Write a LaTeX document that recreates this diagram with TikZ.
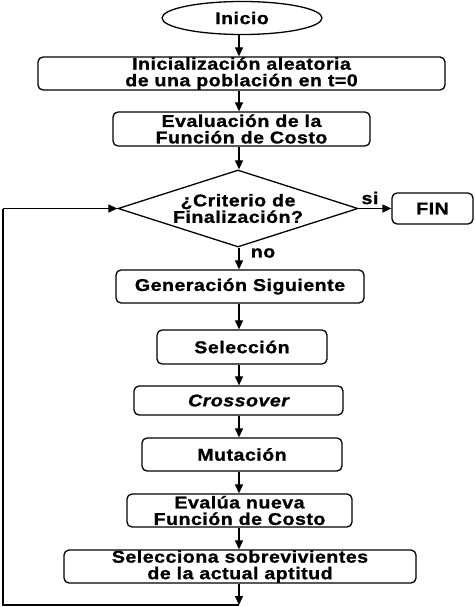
\documentclass[tikz,border=0pt]{standalone}
\usepackage{fontspec}
\setmainfont{Liberation Sans}[FakeStretch=1.15, LetterSpace=3, FakeBold=1.2]
\usetikzlibrary{shapes.geometric,arrows.meta}
\begin{document}
\begin{tikzpicture}[x=1pt,y=-1pt,
  txt/.style={font=\bfseries\fontsize{17}{16.5}\selectfont},
  proc/.style={txt, draw, rectangle, rounded corners=5pt, line width=1.3pt, inner sep=0pt, align=center},
  arr/.style={line width=1.2pt, -{Triangle[length=9pt,width=8pt]}},
  loopline/.style={line width=1.7pt},
  ]
\useasboundingbox (0,0) rectangle (474,607);
\node[txt, draw, ellipse, line width=1.3pt, inner sep=0pt, minimum width=160pt, minimum height=33pt] (ini) at (242,18) {Inicio};
\node[proc, minimum width=407pt, minimum height=33pt] (b1) at (241.5,73.5) {Inicialización aleatoria\\de una población en t=0};
\node[proc, minimum width=257pt, minimum height=34pt] (b2) at (241.5,129) {Evaluación de la\\Función de Costo};
\node[txt, draw, diamond, aspect=3, line width=1.3pt, inner sep=0pt, minimum width=240pt, minimum height=77pt, align=center] (dia) at (238,208.5) {¿Criterio de\\Finalización?};
\node[proc, minimum width=81pt, minimum height=31pt] (fin) at (432.5,208.5) {FIN};
\node[proc, minimum width=248pt, minimum height=33pt] (b3) at (240,286.5) {Generación Siguiente};
\node[proc, minimum width=170pt, minimum height=34pt] (b4) at (242,347) {Selección};
\node[proc, minimum width=209pt, minimum height=29pt] (b5) at (238.5,400.5) {\itshape Crossover};
\node[proc, minimum width=200pt, minimum height=33pt] (b6) at (242,454.5) {Mutación};
\node[proc, minimum width=225pt, minimum height=33pt] (b7) at (239.5,510.5) {Evalúa nueva\\Función de Costo};
\node[proc, minimum width=352pt, minimum height=33pt] (b8) at (240,566.5) {Selecciona sobrevivientes\\de la actual aptitud};
\node[txt] (si) at (370,198) {si};
\node[txt] (no) at (263,253) {no};
\coordinate (c1) at (239,605);
\coordinate (c2) at (3,208.5);

\draw[arr] (ini.south -| 239,0) -- (b1.north -| 239,0);
\draw[arr] (b1.south -| 239,0) -- (b2.north -| 239,0);
\draw[arr] (b2.south -| 239,0) -- (dia.north -| 239,0);
\draw[arr] (dia.east) -- (fin.west);
\draw[arr] (dia.south -| 239,0) -- (b3.north -| 239,0);
\draw[arr] (b3.south -| 239,0) -- (b4.north -| 239,0);
\draw[arr] (b4.south -| 239,0) -- (b5.north -| 239,0);
\draw[arr] (b5.south -| 239,0) -- (b6.north -| 239,0);
\draw[arr] (b6.south -| 239,0) -- (b7.north -| 239,0);
\draw[arr] (b7.south -| 239,0) -- (b8.north -| 239,0);
\draw[arr] (b8.south -| 239,0) -- (c1);
\draw[loopline] (c1) -| (c2);
\draw[arr] (c2) -- (dia.west);
\end{tikzpicture}
\end{document}
